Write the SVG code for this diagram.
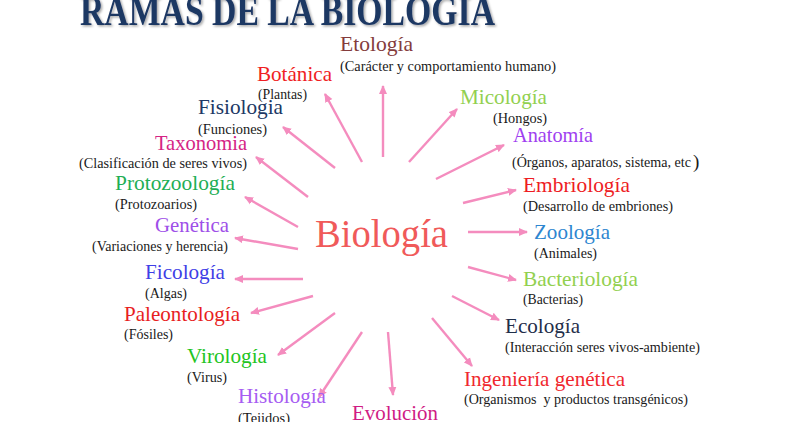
<svg xmlns="http://www.w3.org/2000/svg" width="805" height="422" viewBox="0 0 805 422">
<defs>
<style>
text{font-family:"Liberation Serif","Times New Roman",serif;}
.n{font-size:21.5px;}
.s{font-size:14.5px;fill:#1a1a1a;}
.c line{stroke:#F48CBE;stroke-width:2.4;marker-end:url(#ah);}
</style>
<marker id="ah" markerUnits="userSpaceOnUse" markerWidth="10" markerHeight="9" refX="8" refY="4.5" orient="auto">
<path d="M0,0.5 L9,4.5 L0,8.5 Z" fill="#F48CBE"/>
</marker>
<filter id="sh" x="-5%" y="-20%" width="110%" height="150%">
<feDropShadow dx="1.5" dy="1.5" stdDeviation="0.8" flood-color="#000" flood-opacity="0.35"/>
</filter>
</defs>
<rect width="805" height="422" fill="#fff"/>
<g id="title"><text x="80" y="25" font-size="42" font-weight="bold" fill="#1F3864" textLength="415" lengthAdjust="spacingAndGlyphs" filter="url(#sh)">RAMAS DE LA BIOLOGIA</text></g>
<g class="c" id="connectors">
<line x1="383" y1="157" x2="383" y2="86"/>
<line x1="362" y1="162" x2="325" y2="94"/>
<line x1="409" y1="162" x2="457" y2="109"/>
<line x1="335" y1="168" x2="283" y2="127"/>
<line x1="436" y1="179" x2="504" y2="145"/>
<line x1="463" y1="203" x2="516" y2="190"/>
<line x1="308" y1="197" x2="256" y2="157"/>
<line x1="298" y1="227" x2="245" y2="197"/>
<line x1="298" y1="249" x2="235" y2="238"/>
<line x1="303" y1="279" x2="235" y2="279"/>
<line x1="313" y1="296" x2="251" y2="313"/>
<line x1="335" y1="313" x2="278" y2="355"/>
<line x1="362" y1="332" x2="319" y2="397"/>
<line x1="388" y1="332" x2="393" y2="395"/>
<line x1="432" y1="318" x2="472" y2="366"/>
<line x1="452" y1="296" x2="499" y2="320"/>
<line x1="468" y1="267" x2="516" y2="280"/>
<line x1="468" y1="232" x2="527" y2="232"/>
</g>
<g id="biologia"><text x="315" y="247" font-size="40" fill="#F05A5A" textLength="133" lengthAdjust="spacingAndGlyphs">Biología</text></g>
<g id="etologia"><text class="n" x="340" y="51" fill="#843C3C" textLength="73" lengthAdjust="spacingAndGlyphs">Etología</text><text class="s" x="340" y="71" textLength="216" lengthAdjust="spacingAndGlyphs">(Carácter y comportamiento humano)</text></g>
<g id="botanica"><text class="n" x="257" y="81" fill="#F01E23" textLength="75" lengthAdjust="spacingAndGlyphs">Botánica</text><text class="s" x="258" y="99" textLength="49" lengthAdjust="spacingAndGlyphs">(Plantas)</text></g>
<g id="fisiologia"><text class="n" x="198" y="114" fill="#203864" textLength="85" lengthAdjust="spacingAndGlyphs">Fisiologia</text><text class="s" x="198" y="134" textLength="69" lengthAdjust="spacingAndGlyphs">(Funciones)</text></g>
<g id="taxonomia"><text class="n" x="155" y="150" fill="#D52485" textLength="92" lengthAdjust="spacingAndGlyphs">Taxonomia</text><text class="s" x="79" y="168" textLength="168" lengthAdjust="spacingAndGlyphs">(Clasificación de seres vivos)</text></g>
<g id="protozoologia"><text class="n" x="115" y="190" fill="#1EAE55" textLength="120" lengthAdjust="spacingAndGlyphs">Protozoología</text><text class="s" x="115" y="209" textLength="82" lengthAdjust="spacingAndGlyphs">(Protozoarios)</text></g>
<g id="genetica"><text class="n" x="155" y="232" fill="#9E4FE8" textLength="74" lengthAdjust="spacingAndGlyphs">Genética</text><text class="s" x="92" y="251" textLength="136" lengthAdjust="spacingAndGlyphs">(Variaciones y herencia)</text></g>
<g id="ficologia"><text class="n" x="145" y="279" fill="#3F3FE6" textLength="80" lengthAdjust="spacingAndGlyphs">Ficología</text><text class="s" x="145" y="298" textLength="42" lengthAdjust="spacingAndGlyphs">(Algas)</text></g>
<g id="paleontologia"><text class="n" x="124" y="321" fill="#E81E1E" textLength="116" lengthAdjust="spacingAndGlyphs">Paleontología</text><text class="s" x="124" y="339" textLength="49" lengthAdjust="spacingAndGlyphs">(Fósiles)</text></g>
<g id="virologia"><text class="n" x="187" y="363" fill="#22C422" textLength="80" lengthAdjust="spacingAndGlyphs">Virología</text><text class="s" x="187" y="382" textLength="40" lengthAdjust="spacingAndGlyphs">(Virus)</text></g>
<g id="histologia"><text class="n" x="238" y="403" fill="#A65CF2" textLength="88" lengthAdjust="spacingAndGlyphs">Histología</text><text class="s" x="238" y="423" textLength="52" lengthAdjust="spacingAndGlyphs">(Tejidos)</text></g>
<g id="evolucion"><text class="n" x="352" y="420" fill="#D01C84" textLength="86" lengthAdjust="spacingAndGlyphs">Evolución</text></g>
<g id="micologia"><text class="n" x="460" y="104" fill="#92D050" textLength="87" lengthAdjust="spacingAndGlyphs">Micología</text><text class="s" x="493" y="123" textLength="54" lengthAdjust="spacingAndGlyphs">(Hongos)</text></g>
<g id="anatomia"><text class="n" x="513" y="142" fill="#A040F0" textLength="80" lengthAdjust="spacingAndGlyphs">Anatomía</text><text class="s" x="512" y="167"><tspan textLength="179" lengthAdjust="spacingAndGlyphs">(Órganos, aparatos, sistema, etc</tspan><tspan x="693" font-size="19" y="168">)</tspan></text></g>
<g id="embriologia"><text class="n" x="523" y="192" fill="#EE1C24" textLength="107" lengthAdjust="spacingAndGlyphs">Embriología</text><text class="s" x="523" y="211" textLength="150" lengthAdjust="spacingAndGlyphs">(Desarrollo de embriones)</text></g>
<g id="zoologia"><text class="n" x="534" y="239" fill="#2E86D0" textLength="76" lengthAdjust="spacingAndGlyphs">Zoología</text><text class="s" x="534" y="258" textLength="63" lengthAdjust="spacingAndGlyphs">(Animales)</text></g>
<g id="bacteriologia"><text class="n" x="523" y="286" fill="#92D050" textLength="115" lengthAdjust="spacingAndGlyphs">Bacteriología</text><text class="s" x="523" y="304" textLength="60" lengthAdjust="spacingAndGlyphs">(Bacterias)</text></g>
<g id="ecologia"><text class="n" x="505" y="333" fill="#1F2E4A" textLength="75" lengthAdjust="spacingAndGlyphs">Ecología</text><text class="s" x="505" y="352" textLength="195" lengthAdjust="spacingAndGlyphs">(Interacción seres vivos-ambiente)</text></g>
<g id="ingenieria"><text class="n" x="464" y="386" fill="#F0282E" textLength="161" lengthAdjust="spacingAndGlyphs">Ingeniería genética</text><text class="s" x="464" y="404" textLength="224" lengthAdjust="spacingAndGlyphs" xml:space="preserve">(Organismos  y productos transgénicos)</text></g>
</svg>
